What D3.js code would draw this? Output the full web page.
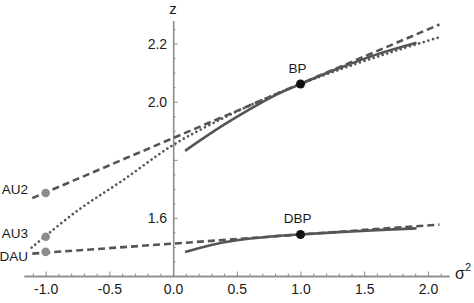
<!DOCTYPE html>
<html><head><meta charset="utf-8">
<script src="https://cdn.jsdelivr.net/npm/d3@7"></script>
<style>
html,body{margin:0;padding:0;background:#fff;}
svg{display:block;font-family:"Liberation Sans",Arial,Helvetica,sans-serif;}
</style></head>
<body>
<svg id="c" width="474" height="303"></svg>
<script>
// ---- data ----
const xTickValues = [-1.0, -0.5, 0.0, 0.5, 1.0, 1.5, 2.0];
const xTickLabels = ["-1.0", "-0.5", "0.0", "0.5", "1.0", "1.5", "2.0"];
const yMajorTicks = [1.6, 1.8, 2.0, 2.2];
const yTickLabels = [1.6, 2.0, 2.2];

// BP solid curve
const bpSolidX = [0.094, 0.25, 0.4, 0.59, 0.8, 1.0, 1.3, 1.6, 1.91];
const bpSolidZ = [1.831, 1.878, 1.921, 1.971, 2.022, 2.061, 2.115, 2.163, 2.203];
// BP dashed tangent (AU2)
const bpDashX = [-1.105, 2.09];
const bpDashZ = [1.668, 2.266];
// BP dotted approximation (AU3)
const bpDotX = [-1.11, -0.75, -0.4, 0.0, 0.4, 0.75, 1.0, 1.4, 1.75, 2.09];
const bpDotZ = [1.498, 1.625, 1.728, 1.851, 1.945, 2.016, 2.061, 2.125, 2.176, 2.222];
// DBP solid curve
const dbpSolidX = [0.094, 0.3, 0.5, 0.75, 1.0, 1.3, 1.6, 1.91];
const dbpSolidZ = [1.483, 1.507, 1.523, 1.535, 1.543, 1.551, 1.558, 1.564];
// DBP dashed tangent (DAU)
const dbpDashX = [-1.105, 2.09];
const dbpDashZ = [1.477, 1.577];

// marked points
const blackPtNames = ["BP", "DBP"];
const blackPtX = [1.0, 1.0];
const blackPtZ = [2.061, 1.543];
const grayPtNames = ["AU2", "AU3", "DAU"];
const grayPtX = [-1.0, -1.0, -1.0];
const grayPtZ = [1.686, 1.535, 1.483];

// ---- drawing ----
const svg = d3.select("#c");
const x = d3.scaleLinear().domain([-1.17, 2.165]).range([24, 449]);
const y = d3.scaleLinear().domain([1.4, 2.28]).range([276, 20.4]);
const axisCol = "#8a8a8a", lineCol = "#555", txtCol = "#1a1a1a";

// minor ticks
const xMinor = d3.range(-11, 22).map(i => i / 10).filter(v => !xTickValues.some(t => Math.abs(t - v) < 1e-9));
const yMinor = d3.range(29, 46).map(i => i / 20).filter(v => !yMajorTicks.some(t => Math.abs(t - v) < 1e-9));

const gx = svg.append("g").attr("transform", `translate(0,${y(1.4)})`);
gx.call(d3.axisBottom(x).tickValues(xMinor).tickSize(-2.5).tickSizeOuter(0).tickFormat(""));
const gx2 = svg.append("g").attr("transform", `translate(0,${y(1.4)})`);
gx2.call(d3.axisBottom(x).tickValues(xTickValues).tickSize(-4.5).tickSizeOuter(0).tickPadding(8)
  .tickFormat((d, i) => xTickLabels[i]));
[gx, gx2].forEach(g => {
  g.select(".domain").attr("stroke", axisCol).attr("stroke-width", 1.3);
  g.selectAll(".tick line").attr("stroke", axisCol);
  g.selectAll("text").attr("font-size", 14).attr("fill", txtCol).attr("font-family", null);
});

const gy = svg.append("g").attr("transform", `translate(${x(0)},0)`);
gy.call(d3.axisLeft(y).tickValues(yMinor).tickSize(-2.5).tickSizeOuter(0).tickFormat(""));
const gy2 = svg.append("g").attr("transform", `translate(${x(0)},0)`);
gy2.call(d3.axisLeft(y).tickValues(yMajorTicks).tickSize(-4.5).tickSizeOuter(0).tickPadding(6)
  .tickFormat(d => yTickLabels.some(t => Math.abs(t - d) < 1e-9) ? d3.format(".1f")(d) : ""));
[gy, gy2].forEach(g => {
  g.select(".domain").attr("stroke", axisCol).attr("stroke-width", 1.3);
  g.selectAll(".tick line").attr("stroke", axisCol);
  g.selectAll("text").attr("font-size", 14).attr("fill", txtCol).attr("font-family", null);
});

// axis titles
svg.append("text").attr("x", x(0)).attr("y", 14).attr("text-anchor", "middle")
  .attr("font-size", 15).attr("fill", txtCol).text("z");
const sig = svg.append("text").attr("x", 455).attr("y", 279).attr("font-size", 16).attr("fill", txtCol);
sig.append("tspan").text("σ");
sig.append("tspan").attr("dy", -8).attr("font-size", 11).text("2");

// curves
const line = d3.line().x(d => x(d[0])).y(d => y(d[1]));
const zipXY = (a, b) => a.map((v, i) => [v, b[i]]);
function draw(xs, zs, opts) {
  svg.append("path").datum(zipXY(xs, zs))
    .attr("d", line.curve(opts.curve || d3.curveLinear))
    .attr("fill", "none").attr("stroke", lineCol)
    .attr("stroke-width", opts.w).attr("stroke-dasharray", opts.dash || null)
    .attr("stroke-linecap", opts.cap || "butt");
}
draw(bpDashX, bpDashZ, {w: 2.6, dash: "7,4"});
draw(dbpDashX, dbpDashZ, {w: 2.6, dash: "7,4"});
draw(bpDotX, bpDotZ, {w: 2.7, dash: "0,4.8", cap: "round", curve: d3.curveCatmullRom});
draw(bpSolidX, bpSolidZ, {w: 2.6, curve: d3.curveCatmullRom});
draw(dbpSolidX, dbpSolidZ, {w: 2.6, curve: d3.curveCatmullRom});

// points
svg.selectAll(".gp").data(grayPtX).enter().append("circle")
  .attr("cx", d => x(d)).attr("cy", (d, i) => y(grayPtZ[i])).attr("r", 4.3).attr("fill", "#8c8c8c");
svg.selectAll(".bp").data(blackPtX).enter().append("circle")
  .attr("cx", d => x(d)).attr("cy", (d, i) => y(blackPtZ[i])).attr("r", 4.5).attr("fill", "#111");

// point labels
svg.selectAll(".bl").data(blackPtNames).enter().append("text")
  .attr("x", (d, i) => x(blackPtX[i]) - 3).attr("y", (d, i) => y(blackPtZ[i]) - 11)
  .attr("text-anchor", "middle").attr("font-size", 13.5).attr("fill", txtCol).text(d => d);
svg.selectAll(".gl").data(grayPtNames).enter().append("text")
  .attr("x", 28).attr("y", (d, i) => y(grayPtZ[i]) + (i === 2 ? 9 : 1))
  .attr("text-anchor", "end").attr("font-size", 13.5).attr("fill", txtCol).text(d => d);
</script>
</body></html>
